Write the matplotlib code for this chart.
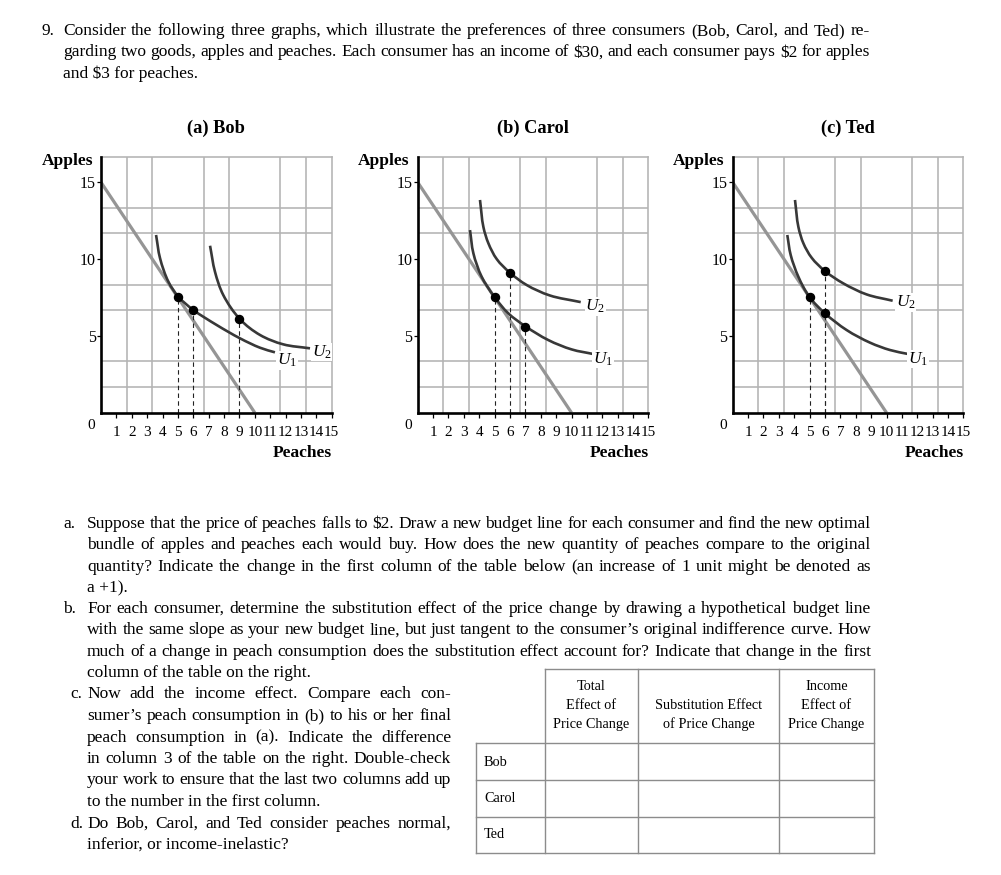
import matplotlib
matplotlib.use("Agg")
import matplotlib.pyplot as plt
from matplotlib.path import Path
from matplotlib.patches import PathPatch
import numpy as np

plt.rcParams['font.family'] = ['Liberation Serif', 'DejaVu Serif']
plt.rcParams['mathtext.fontset'] = 'custom'
plt.rcParams['mathtext.rm'] = 'Liberation Serif'
plt.rcParams['mathtext.it'] = 'Liberation Serif:italic'

# ---- values ----
names = ["Bob", "Carol", "Ted"]
titles = ["(a) Bob", "(b) Carol", "(c) Ted"]

budget_x = [0, 10]
budget_y = [15, 0]

bob_u1_x = [3.58, 3.84, 4.38, 5.03, 6.0, 7.52, 9.04, 10.34, 11.31]
bob_u1_y = [11.57, 10.05, 8.53, 7.55, 6.69, 5.71, 4.84, 4.23, 3.93]
bob_u2_x = [7.09, 7.41, 7.95, 9.04, 10.34, 11.85, 13.59]
bob_u2_y = [10.87, 9.18, 7.66, 6.08, 5.06, 4.45, 4.19]

carol_u1_x = [3.4, 3.62, 4.16, 4.98, 5.89, 6.98, 8.49, 10.01, 11.42]
carol_u1_y = [11.89, 10.38, 8.85, 7.55, 6.47, 5.64, 4.73, 4.12, 3.82]
carol_u2_x = [4.05, 4.27, 4.6, 5.14, 6.0, 7.09, 8.6, 10.6]
carol_u2_y = [13.85, 12.1, 11.02, 10.0, 9.11, 8.31, 7.63, 7.2]

ted_u1_x = [3.55, 3.77, 4.27, 4.98, 6.0, 7.41, 8.93, 10.23, 11.42]
ted_u1_y = [11.57, 10.27, 8.85, 7.55, 6.47, 5.38, 4.56, 4.08, 3.82]
ted_u2_x = [4.05, 4.27, 4.6, 5.14, 6.0, 7.19, 8.71, 10.4]
ted_u2_y = [13.85, 12.1, 11.02, 10.08, 9.22, 8.42, 7.7, 7.29]

bob_dots_x, bob_dots_y = [5, 6, 9], [7.5, 6.7, 6.1]
carol_dots_x, carol_dots_y = [5, 6, 7], [7.5, 9.1, 5.6]
ted_dots_x, ted_dots_y = [5, 6, 6], [7.5, 9.2, 6.5]

# label anchors (left edge, centre) for U1 and U2
bob_labels = [(11.45, 3.4), (13.7, 3.95)]
carol_labels = [(11.4, 3.5), (10.9, 6.9)]
ted_labels = [(11.4, 3.5), (10.6, 7.2)]

x_ticks = list(range(1, 16))
y_ticks = [5, 10, 15]

curves = [
    [(bob_u1_x, bob_u1_y), (bob_u2_x, bob_u2_y)],
    [(carol_u1_x, carol_u1_y), (carol_u2_x, carol_u2_y)],
    [(ted_u1_x, ted_u1_y), (ted_u2_x, ted_u2_y)],
]
dots = [(bob_dots_x, bob_dots_y), (carol_dots_x, carol_dots_y), (ted_dots_x, ted_dots_y)]
labels = [bob_labels, carol_labels, ted_labels]

table_cols = ["Total\nEffect of\nPrice Change",
              "Substitution Effect\nof Price Change",
              "Income\nEffect of\nPrice Change"]

intro = [
    "Consider the following three graphs, which illustrate the preferences of three consumers (Bob, Carol, and Ted) re-",
    "garding two goods, apples and peaches. Each consumer has an income of $30, and each consumer pays $2 for apples",
    "and $3 for peaches.",
]
part_a = [
    "Suppose that the price of peaches falls to $2. Draw a new budget line for each consumer and find the new optimal",
    "bundle of apples and peaches each would buy. How does the new quantity of peaches compare to the original",
    "quantity? Indicate the change in the first column of the table below (an increase of 1 unit might be denoted as",
    "a +1).",
]
part_b = [
    "For each consumer, determine the substitution effect of the price change by drawing a hypothetical budget line",
    "with the same slope as your new budget line, but just tangent to the consumer\u2019s original indifference curve. How",
    "much of a change in peach consumption does the substitution effect account for? Indicate that change in the first",
    "column of the table on the right.",
]
part_c = [
    "Now add the income effect. Compare each con-",
    "sumer\u2019s peach consumption in (b) to his or her final",
    "peach consumption in (a). Indicate the difference",
    "in column 3 of the table on the right. Double-check",
    "your work to ensure that the last two columns add up",
    "to the number in the first column.",
]
part_d = [
    "Do Bob, Carol, and Ted consider peaches normal,",
    "inferior, or income-inelastic?",
]


def smooth_path(xs, ys):
    # centripetal Catmull-Rom through the read points, as cubic Bezier pieces
    p = np.column_stack([xs, ys]).astype(float)
    ext = np.vstack([2 * p[0] - p[1], p, 2 * p[-1] - p[-2]])
    verts = [p[0]]
    codes = [Path.MOVETO]
    for k in range(len(p) - 1):
        p0, p1, p2, p3 = ext[k], ext[k + 1], ext[k + 2], ext[k + 3]
        d0 = np.linalg.norm(p1 - p0) ** 0.5
        d1 = np.linalg.norm(p2 - p1) ** 0.5
        d2 = np.linalg.norm(p3 - p2) ** 0.5
        m1 = ((p1 - p0) / d0 - (p2 - p0) / (d0 + d1) + (p2 - p1) / d1) * d1
        m2 = ((p2 - p1) / d1 - (p3 - p1) / (d1 + d2) + (p3 - p2) / d2) * d1
        verts += [p1 + m1 / 3, p2 - m2 / 3, p2]
        codes += [Path.CURVE4] * 3
    return Path(verts, codes)


# ---- layout (pixels) ----
W, H = 1001, 875
fig = plt.figure(figsize=(W / 100, H / 100), dpi=100)

panel_left = [101, 417.7, 732.7]
ax_w = 230.7
ax_top, ax_bot = 156.7, 412.7
grid_col = '#b3b3b3'
step = 15 / 9

for i in range(3):
    left = panel_left[i]
    ax = fig.add_axes([left / W, 1 - ax_bot / H, ax_w / W, (ax_bot - ax_top) / H])
    ax.set_xlim(0, 15)
    ax.set_ylim(0, 15 + step)
    ax.set_xticks(x_ticks)
    ax.set_xticklabels([str(t) for t in x_ticks], fontsize=11)
    ax.set_yticks(y_ticks)
    ax.set_yticklabels([str(t) for t in y_ticks], fontsize=11.5)
    ax.set_xticks(np.arange(1, 9) * step, minor=True)
    ax.set_yticks(np.arange(1, 10) * step, minor=True)
    ax.tick_params(which='minor', length=0)
    ax.tick_params(axis='x', which='major', direction='out', length=3.8, width=0.9, pad=6)
    ax.tick_params(axis='y', which='major', direction='out', length=3.2, width=0.9, pad=0.5)
    ax.grid(which='minor', color=grid_col, linewidth=1.15)
    ax.set_axisbelow(True)
    for s in ['left', 'bottom']:
        ax.spines[s].set_linewidth(1.9)
        ax.spines[s].set_color('black')
        ax.spines[s].set_zorder(6)
    for s in ['top', 'right']:
        ax.spines[s].set_linewidth(1.15)
        ax.spines[s].set_color(grid_col)

    ax.plot(budget_x, budget_y, color='#959595', linewidth=2.3, zorder=3,
            solid_capstyle='butt')
    for cx, cy in curves[i]:
        ax.add_patch(PathPatch(smooth_path(cx, cy), fill=False, edgecolor='#383838',
                               linewidth=1.9, zorder=4, capstyle='butt'))
    dx, dy = dots[i]
    ax.vlines(dx, 0, dy, colors='#222222', linestyles=(0, (4, 3)), linewidth=0.8, zorder=3.5)
    ax.plot(dx, dy, 'o', color='black', markersize=5.8, zorder=5)
    for lab, (lx, ly) in zip(['$U_1$', '$U_2$'], labels[i]):
        ax.text(lx, ly, lab, fontsize=12.5, ha='left', va='center', zorder=5,
                bbox=dict(facecolor='white', edgecolor='none', pad=0.5))
    ax.annotate('0', xy=(0, 0), xytext=(-7.2, -9), textcoords='offset points',
                ha='center', va='center', fontsize=11)

# page overlay in pixel coordinates
pg = fig.add_axes([0, 0, 1, 1])
pg.set_xlim(0, W)
pg.set_ylim(H, 0)
pg.axis('off')
pg.patch.set_alpha(0)

for i in range(3):
    left = panel_left[i]
    pg.text(left + ax_w / 2, 128, titles[i], ha='center', va='center',
            fontsize=13.2, fontweight='bold')
    pg.text(left - 8, 161, 'Apples', ha='right', va='center', fontsize=12.5, fontweight='bold')
    pg.text(left + ax_w, 453, 'Peaches', ha='right', va='center', fontsize=12.5, fontweight='bold')

renderer = fig.canvas.get_renderer()
BODY = 12.5


def word_width(s, size):
    t = pg.text(0, 0, s, fontsize=size, parse_math=False)
    w = t.get_window_extent(renderer).width
    t.remove()
    return w


def put_line(text, x0, x1, y, justify=True, size=BODY):
    words = text.split(' ')
    if not justify or len(words) == 1:
        pg.text(x0, y, text, fontsize=size, va='baseline', parse_math=False)
        return
    widths = [word_width(w, size) for w in words]
    gap = (x1 - x0 - sum(widths)) / (len(words) - 1)
    x = x0
    for w, wd in zip(words, widths):
        pg.text(x, y, w, fontsize=size, va='baseline', parse_math=False)
        x += wd + gap


def paragraph(label, lx, lines, x0, x1, baselines):
    pg.text(lx, baselines[0], label, fontsize=BODY, va='baseline', parse_math=False)
    for k, (line, y) in enumerate(zip(lines, baselines)):
        put_line(line, x0, x1, y, justify=(k < len(lines) - 1))


paragraph('9.', 42, intro, 63, 870, [35, 56.5, 78])
paragraph('a.', 63, part_a, 87, 871, [527.7, 549.3, 571, 592.3])
paragraph('b.', 63, part_b, 87, 871, [612.7, 634.5, 656, 676.7])
paragraph('c.', 70, part_c, 87, 451, [698.3, 720, 741.7, 762.7, 784.5, 806])
paragraph('d.', 70, part_d, 87, 451, [827.7, 849])

# table
tcol = '#8c8c8c'
tlw = 1.0
col_x = [476, 545, 638, 779, 874]
row_y = [669, 743, 780, 817, 853]
pg.plot([col_x[1], col_x[-1]], [row_y[0], row_y[0]], color=tcol, lw=tlw)
for y in row_y[1:]:
    pg.plot([col_x[0], col_x[-1]], [y, y], color=tcol, lw=tlw)
pg.plot([col_x[0], col_x[0]], [row_y[1], row_y[-1]], color=tcol, lw=tlw)
for x in col_x[1:]:
    pg.plot([x, x], [row_y[0], row_y[-1]], color=tcol, lw=tlw)

for k, head in enumerate(table_cols):
    cx = (col_x[k + 1] + col_x[k + 2]) / 2
    head_lines = head.split('\n')
    ys = [686, 705.5, 724.3][3 - len(head_lines):]
    for hl, y in zip(head_lines, ys):
        pg.text(cx, y, hl, ha='center', va='center', fontsize=10.3)

for name, y in zip(names, [762.7, 799, 835]):
    pg.text(484, y, name, ha='left', va='center', fontsize=10.3)

fig.savefig('out.png', dpi=100)
